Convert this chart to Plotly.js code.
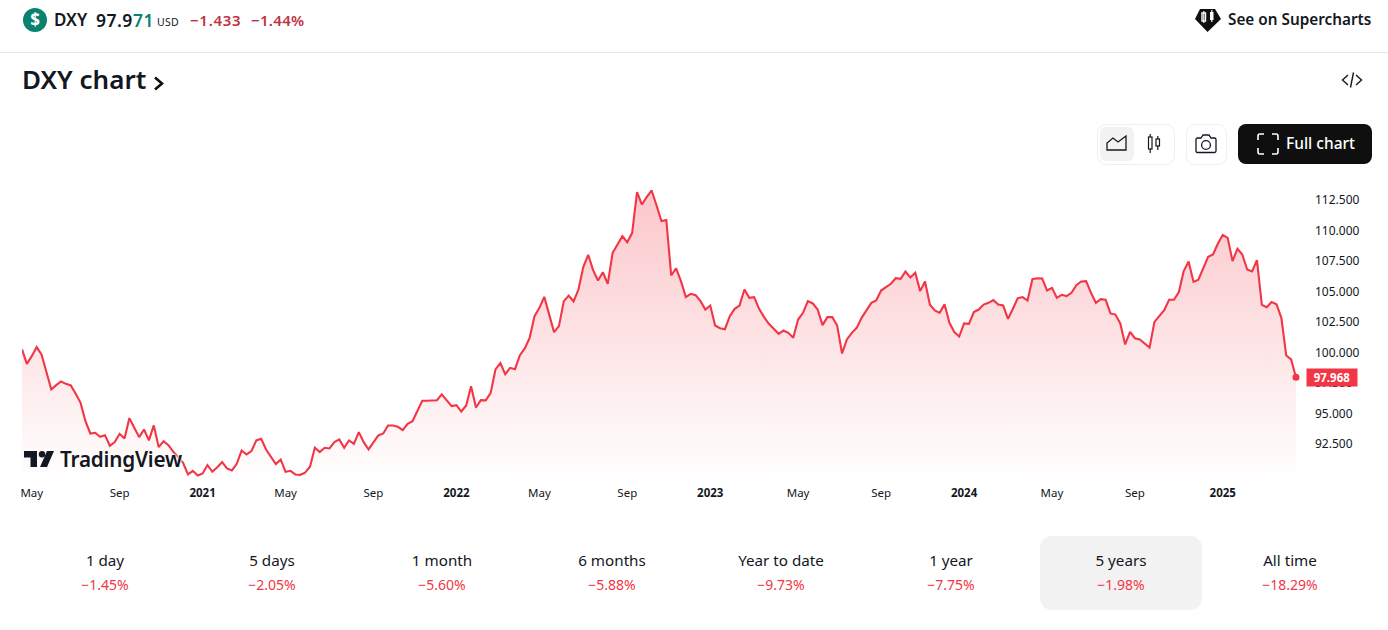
<!DOCTYPE html>
<html>
<head>
<meta charset="utf-8">
<script src="https://cdn.plot.ly/plotly-3.0.1.min.js"></script>
<style>
html,body{margin:0;padding:0;background:#fff;width:1388px;height:630px;overflow:hidden;font-family:"Noto Sans",sans-serif;color:#131722}
#chart{position:absolute;left:0;top:0;width:1388px;height:630px;z-index:1}
.abs{position:absolute;white-space:nowrap;z-index:2}
.period{position:absolute;top:536px;height:74px;width:162px;text-align:center;z-index:2;border-radius:12px}
.period .n{position:absolute;left:0;right:0;top:13px;font-size:15.2px;line-height:22px;color:#131722}
.period .v{position:absolute;left:0;right:0;top:39px;font-size:14px;line-height:20px;color:#f23645}
.period.sel{background:#f2f2f2}
</style>
</head>
<body>
<div id="chart"></div>

<svg class="abs" style="left:23px;top:8px" width="24" height="24" viewBox="0 0 24 24"><circle cx="12" cy="12" r="12" fill="#0b8270"/><text x="12" y="18" text-anchor="middle" font-family="Noto Sans" font-weight="700" font-size="17" fill="#fff">$</text></svg>
<div class="abs" style="left:54px;top:9px;font-size:17px;font-weight:600;line-height:22px">DXY</div>
<div class="abs" style="left:96px;top:9px;font-size:17.5px;font-weight:600;line-height:22px;letter-spacing:.5px">97.9<span style="color:#0b8270">71</span></div>
<div class="abs" style="left:157px;top:14px;font-size:10.5px;line-height:16px;letter-spacing:.3px">USD</div>
<div class="abs" style="left:190px;top:9px;font-size:15px;font-weight:600;line-height:22px;color:#bd3442;letter-spacing:.7px">−1.433</div>
<div class="abs" style="left:251px;top:9px;font-size:15px;font-weight:600;line-height:22px;color:#bd3442;letter-spacing:.3px">−1.44%</div>

<svg class="abs" style="left:1194px;top:8px" width="28" height="24" viewBox="0 0 28 24"><path d="M6 1H21L27 11 13.5 24 1 11Z" fill="#0f0f0f"/><rect x="8" y="5" width="3.5" height="8" fill="none" stroke="#fff" stroke-width="1.4"/><rect x="16" y="4" width="3.5" height="8" fill="#fff"/><path d="M9.8 3V15M17.8 2V14" stroke="#fff" stroke-width="1.2"/></svg>
<div class="abs" style="left:1228px;top:8px;font-size:15.3px;font-weight:600;line-height:22px">See on Supercharts</div>
<div class="abs" style="left:0;top:52px;width:1388px;height:1px;background:#e8e8e8"></div>

<div class="abs" style="left:22px;top:61px;font-size:26px;font-weight:600;line-height:36px">DXY chart</div>
<svg class="abs" style="left:153px;top:75px" width="12" height="18" viewBox="0 0 12 18"><path d="M2 2.5 9 8.5 2 14.5" fill="none" stroke="#0f0f0f" stroke-width="2.6"/></svg>
<svg class="abs" style="left:1341px;top:70px" width="22" height="20" viewBox="0 0 22 20"><path d="M7 5 1.5 10 7 15M15 5 20.5 10 15 15M12.5 2.5 9.5 17.5" fill="none" stroke="#131722" stroke-width="1.4"/></svg>

<div class="abs" style="left:1097px;top:124px;width:76px;height:39px;border:1px solid #efefef;border-radius:9px;box-sizing:content-box"></div>
<div class="abs" style="left:1100px;top:127px;width:34px;height:34px;background:#f2f2f2;border-radius:6px"></div>
<svg class="abs" style="left:1106px;top:134px" width="22" height="18" viewBox="0 0 22 18"><path d="M1 16V9L7 4 12 8 20 2V16Z" fill="none" stroke="#131722" stroke-width="1.3"/></svg>
<svg class="abs" style="left:1146px;top:133px" width="16" height="22" viewBox="0 0 16 22"><rect x="2.5" y="4" width="3.5" height="12" fill="none" stroke="#131722" stroke-width="1.2"/><rect x="10" y="6" width="3.5" height="7" fill="none" stroke="#131722" stroke-width="1.2"/><path d="M4.2 1V4M4.2 16V20M11.8 3V6M11.8 13V17" stroke="#131722" stroke-width="1.2"/></svg>
<div class="abs" style="left:1186px;top:124px;width:39px;height:39px;border:1px solid #efefef;border-radius:9px"></div>
<svg class="abs" style="left:1194px;top:133px" width="24" height="22" viewBox="0 0 24 22"><path d="M2 6.5Q2 5 3.5 5H7L9 2H15L17 5H20.5Q22 5 22 6.5V18Q22 19.5 20.5 19.5H3.5Q2 19.5 2 18Z" fill="none" stroke="#131722" stroke-width="1.3"/><circle cx="12" cy="12" r="4.4" fill="none" stroke="#131722" stroke-width="1.3"/></svg>
<div class="abs" style="left:1238px;top:124px;width:134px;height:40px;background:#0f0f0f;border-radius:8px"></div>
<svg class="abs" style="left:1257px;top:133px" width="22" height="22" viewBox="0 0 22 22"><path d="M1 7V3Q1 1 3 1H7M15 1H19Q21 1 21 3V7M21 15V19Q21 21 19 21H15M7 21H3Q1 21 1 19V15" fill="none" stroke="#fff" stroke-width="1.6"/></svg>
<div class="abs" style="left:1286px;top:132px;font-size:15.5px;font-weight:500;line-height:22px;color:#fff">Full chart</div>

<svg class="abs" style="left:24px;top:451px" width="30" height="17" viewBox="0 0 30 17"><path d="M0 0H13V16H6.5V6.5H0Z" fill="#131722"/><circle cx="18" cy="3.2" r="3.2" fill="#131722"/><path d="M23 0H30L23 16H16Z" fill="#131722"/></svg>
<div class="abs" style="left:60px;top:445px;font-size:20.7px;font-weight:600;line-height:28px;color:#131722;letter-spacing:-.2px;text-shadow:0 0 2px #fff,0 0 2px #fff,0 0 3px #fff">TradingView</div>

<script>
var firstWeek = "2020-04-20";
var priceValues = [
100.25,99.07,99.70,100.44,99.84,98.33,96.97,97.32,97.62,97.43,
97.30,96.61,95.87,94.37,93.36,93.42,93.09,93.22,92.35,92.65,
93.33,92.95,94.62,93.83,93.06,93.69,92.79,94.02,92.24,92.73,
92.40,91.86,91.37,90.96,90.00,90.30,89.92,90.08,90.77,90.22,
90.60,91.01,90.49,90.33,90.87,91.97,91.64,91.91,92.79,92.92,
92.05,91.45,90.85,91.23,90.22,90.30,90.00,89.97,90.14,90.63,
92.19,91.83,92.19,92.13,92.65,92.87,92.19,92.79,92.51,93.47,
92.65,92.05,92.60,93.20,93.36,94.02,94.02,93.91,93.63,94.15,
94.37,95.19,96.04,96.04,96.09,96.09,96.56,96.04,95.60,95.68,
95.16,95.66,97.24,95.49,96.09,96.07,96.67,98.61,99.13,98.22,
98.74,98.63,99.78,100.33,101.20,102.98,103.66,104.56,103.11,101.67,
102.16,104.21,104.67,104.18,105.16,107.02,108.01,106.75,105.90,106.58,
105.63,108.17,108.85,109.54,109.04,109.81,113.14,112.13,112.76,113.28,
112.05,110.77,110.85,106.31,106.89,105.85,104.54,104.81,104.70,104.21,
103.52,103.85,102.21,101.99,101.91,102.98,103.58,103.85,105.16,104.48,
104.54,103.58,102.92,102.35,101.94,101.53,101.80,101.61,101.20,102.70,
103.25,104.21,104.02,103.52,102.24,102.90,102.90,102.21,99.92,101.07,
101.61,102.02,102.84,103.44,104.07,104.26,105.08,105.36,105.63,106.09,
106.04,106.64,106.15,106.53,105.03,105.82,103.91,103.44,103.25,103.96,
102.43,101.67,101.31,102.38,102.35,103.31,103.52,103.93,104.07,104.29,
103.93,103.85,102.76,103.58,104.45,104.54,104.26,106.01,106.09,106.07,
105.08,105.30,104.48,104.73,104.62,104.89,105.52,105.82,105.85,104.89,
104.07,104.37,104.32,103.20,103.11,102.38,100.66,101.69,101.17,101.07,
100.71,100.41,102.51,102.98,103.47,104.32,104.32,104.95,106.67,107.46,
105.79,105.96,106.89,107.84,108.03,108.93,109.64,109.40,107.49,108.50,
108.03,106.80,106.64,107.57,103.91,103.72,104.13,103.96,102.84,99.75,
99.43,97.95];
var lastPrice = 97.968;
var xTickDates = ["2020-05-04","2020-09-07","2021-01-04","2021-05-03","2021-09-06","2022-01-03","2022-05-02","2022-09-05","2023-01-02","2023-05-08","2023-09-04","2024-01-01","2024-05-06","2024-09-02","2025-01-06"];
var xTickLabels = ["May","Sep","<b>2021</b>","May","Sep","<b>2022</b>","May","Sep","<b>2023</b>","May","Sep","<b>2024</b>","May","Sep","<b>2025</b>"];
var yTickValues = [92.5,95,97.5,100,102.5,105,107.5,110,112.5];
var periodLabels = ["1 day","5 days","1 month","6 months","Year to date","1 year","5 years","All time"];
var periodChanges = ["−1.45%","−2.05%","−5.60%","−5.88%","−9.73%","−7.75%","−1.98%","−18.29%"];
var selectedPeriod = "5 years";

var weekDates = priceValues.map(function(_, i){
  var d = new Date(firstWeek + "T00:00:00Z");
  d.setUTCDate(d.getUTCDate() + 7 * i);
  return d.toISOString().slice(0, 10);
});
var lastDate = weekDates[weekDates.length - 1];

var RED = "#f23645";
var FONT = '"Noto Sans", sans-serif';

var traces = [
  {
    type: "scatter", mode: "lines", x: weekDates, y: priceValues,
    line: {color: RED, width: 2.1}, fill: "tozeroy",
    fillgradient: {type: "vertical", start: 113.3, stop: 89.2,
      colorscale: [[0, "rgba(242,54,69,0.28)"], [1, "rgba(242,54,69,0)"]]},
    hoverinfo: "skip", showlegend: false
  },
  {
    type: "scatter", mode: "markers", x: [lastDate], y: [lastPrice],
    marker: {color: RED, size: 7}, cliponaxis: false, hoverinfo: "skip", showlegend: false
  }
];

var layout = {
  width: 1388, height: 630,
  margin: {l: 22, r: 92, t: 175, b: 152, pad: 0},
  paper_bgcolor: "rgba(0,0,0,0)", plot_bgcolor: "rgba(0,0,0,0)",
  showlegend: false,
  xaxis: {
    type: "date", range: [firstWeek, lastDate], tickmode: "array",
    tickvals: xTickDates, ticktext: xTickLabels, tickangle: 0,
    showgrid: false, zeroline: false, showline: false, ticks: "",
    ticklabelstandoff: 6,
    tickfont: {family: FONT, size: 11.5, color: "#131722"}
  },
  yaxis: {
    side: "right", range: [89.71, 114.55], tickmode: "array",
    tickvals: yTickValues, tickformat: ".3f",
    showgrid: false, zeroline: false, showline: false, ticks: "",
    ticklabelstandoff: 18,
    tickfont: {family: FONT, size: 12, color: "#131722"}
  },
  annotations: [{
    xref: "paper", x: 1, xanchor: "left", xshift: 10, yref: "y", y: lastPrice, yanchor: "middle",
    text: "<b>" + lastPrice.toFixed(3) + "</b>", showarrow: false, bgcolor: RED,
    font: {family: FONT, size: 11.5, color: "#fff"}, width: 50, height: 17, align: "center",
    borderpad: 0
  }]
};

Plotly.newPlot("chart", traces, layout, {displayModeBar: false, staticPlot: true});

var centers = [105, 272, 442, 612, 781, 951, 1121, 1290];
periodLabels.forEach(function(label, i){
  var el = document.createElement("div");
  el.className = "period" + (label === selectedPeriod ? " sel" : "");
  el.style.left = (centers[i] - 81) + "px";
  var n = document.createElement("div"); n.className = "n"; n.textContent = label;
  var v = document.createElement("div"); v.className = "v"; v.textContent = periodChanges[i];
  el.appendChild(n); el.appendChild(v);
  document.body.appendChild(el);
});
</script>
</body>
</html>
